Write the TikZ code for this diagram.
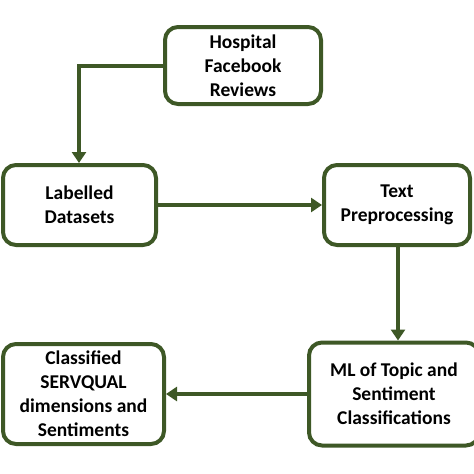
\documentclass[tikz,border=0pt]{standalone}
\usepackage{fontspec}
\setmainfont{Carlito}
\usetikzlibrary{arrows.meta}
\definecolor{boxgreen}{RGB}{62,88,38}
\tikzset{
  flowbox/.style={draw=boxgreen, line width=4pt, rounded corners=13pt, fill=white,
    align=center, font=\bfseries\fontsize{19.5}{24}\selectfont, inner sep=0pt},
  flowarrow/.style={draw=boxgreen, line width=4pt, -{Triangle[width=14pt,length=11pt]}}
}
\begin{document}
\begin{tikzpicture}[x=1pt,y=-1pt]
\useasboundingbox (0,0) rectangle (474,474);
\clip (0,0) rectangle (474,474);
\node[flowbox, minimum width=156pt, minimum height=77pt] (hosp) at (243,65.5) {Hospital\\Facebook\\Reviews};
\node[flowbox, minimum width=153pt, minimum height=80pt] (lab) at (79.5,205) {Labelled\\Datasets};
\node[flowbox, minimum width=146pt, minimum height=80pt] (text) at (397,205) {Text\\Preprocessing};
\node[flowbox, minimum width=161pt, minimum height=100pt] (class) at (83.5,394) {Classified\\SERVQUAL\\dimensions and\\Sentiments};
\node[flowbox, minimum width=170pt, minimum height=103pt] (ml) at (394,394) {ML of Topic and\\Sentiment\\Classifications};
\coordinate (corner) at (79,65.5);
\draw[flowarrow] (hosp.west) -- (corner) -- (lab.north -| corner);
\draw[flowarrow] (lab.east) -- (text.west);
\draw[flowarrow] (text.south -| 398,0) -- (ml.north -| 398,0);
\draw[flowarrow] (ml.west) -- (class.east);
\end{tikzpicture}
\end{document}
